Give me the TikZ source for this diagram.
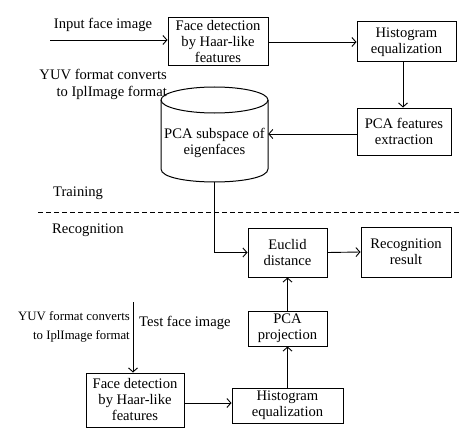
\documentclass[tikz,border=0pt]{standalone}
\usepackage{fontspec}
\setmainfont{Liberation Serif}
\usetikzlibrary{arrows.meta}

\begin{document}
\begin{tikzpicture}[x=1pt, y=-1pt, font=\fontsize{14.6}{16}\selectfont]
        \tikzset{
            procbox/.style={draw, line width=1pt, align=center, inner sep=1pt},
            flow/.style={draw, line width=0.9pt, -{Straight Barb[length=4pt,width=9pt]}},
            notetext/.style={inner sep=0pt, align=right, font=\fontsize{14.6}{17}\selectfont}
        }

        \useasboundingbox (0,0) rectangle (474,444);

        % training part
        \node[procbox, minimum width=100, minimum height=48] (detectA) at (218,42) {Face detection\\by Haar-like\\features};
        \node[procbox, minimum width=99, minimum height=40] (histA) at (406.5,42) {Histogram\\equalization};
        \node[procbox, minimum width=94, minimum height=47] (pcaFeat) at (404,131.5) {PCA features\\extraction};

        % eigenface store (drawn as a cylinder)
        \node[minimum width=107, minimum height=95, inner sep=0pt] (subspace) at (214.5,134.5) {};
        \draw[line width=1pt] (214.5,100) ellipse [x radius=53.5pt, y radius=13pt];
        \draw[line width=1pt] (161,100) -- (161,169) .. controls (161,186.3) and (268,186.3) .. (268,169) -- (268,100);
        \node[align=center, inner sep=0pt] (subspaceText) at (214.5,143) {PCA subspace of\\eigenfaces};

        \coordinate (inputStart) at (50,40);
        \node[inner sep=0pt] (inputLabel) at (103,25) {Input face image};
        \node[notetext, anchor=east] (yuvA) at (167,84.5) {YUV format converts\\to IplImage format};

        \draw[flow] (inputStart) -- (inputStart -| detectA.west);
        \draw[flow] (detectA.east) -- (histA.west);
        \draw[flow] (histA.south -| 403,0) -- (pcaFeat.north -| 403,0);
        \draw[flow] (pcaFeat.west |- 0,134) -- (subspace.east |- 0,134);

        % separation
        \node[inner sep=0pt, anchor=west] (trainLabel) at (53,193) {Training};
        \node[inner sep=0pt, anchor=west] (recogLabel) at (52,230) {Recognition};
        \draw[line width=1pt, dash pattern=on 5pt off 3pt] (38,212) -- (460,212);

        % recognition part
        \node[procbox, minimum width=79, minimum height=49] (euclid) at (287.5,252.5) {Euclid\\distance};
        \node[procbox, minimum width=90, minimum height=50] (result) at (406,252) {Recognition\\result};
        \node[procbox, minimum width=79, minimum height=35] (pcaProj) at (287.5,328.5) {PCA\\projection};
        \node[procbox, minimum width=111, minimum height=35] (histB) at (287.5,405.5) {Histogram\\equalization};
        \node[procbox, minimum width=98, minimum height=54] (detectB) at (135,400) {Face detection\\by Haar-like\\features};

        \coordinate (testStart) at (133,302);
        \node[notetext, anchor=east, font=\fontsize{12.8}{19}\selectfont] (yuvB) at (130,326.5) {YUV format converts\\to IplImage format};
        \node[inner sep=0pt, anchor=west] (testLabel) at (139,323) {Test face image};

        \draw[flow] (subspace.south) |- (euclid.west);
        \draw[flow] (euclid.east) -- (result.west);
        \draw[flow] (pcaProj.north) -- (euclid.south);
        \draw[flow] (histB.north) -- (pcaProj.south);
        \draw[flow] (testStart) -- (testStart |- detectB.north);
        \draw[flow] (detectB.east |- 0,403) -- (histB.west |- 0,403);
\end{tikzpicture}
\end{document}
